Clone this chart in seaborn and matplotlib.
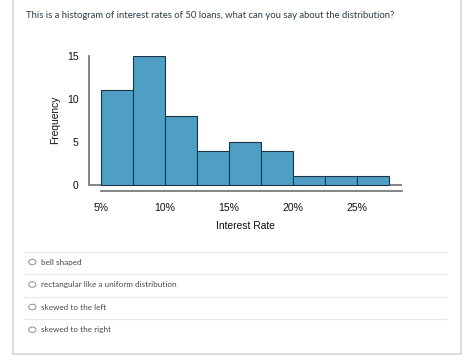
import numpy as np
import matplotlib
matplotlib.use("Agg")
import matplotlib.pyplot as plt
from matplotlib.patches import Circle
from matplotlib.lines import Line2D
import seaborn as sns

# histogram: interest rate bins (%) and loan counts
bin_edges = [5, 7.5, 10, 12.5, 15, 17.5, 20, 22.5, 25, 27.5]
counts = [11, 15, 8, 4, 5, 4, 1, 1, 1]
x_ticks = [5, 10, 15, 20, 25]
x_tick_labels = ["5%", "10%", "15%", "20%", "25%"]
y_ticks = [0, 5, 10, 15]

question = "This is a histogram of interest rates of 50 loans, what can you say about the distribution?"
options = ["bell shaped", "rectangular like a uniform distribution",
           "skewed to the left", "skewed to the right"]

sns.set_style("white")
plt.rcParams["font.family"] = ["Liberation Sans", "DejaVu Sans"]

W, H = 474, 363
fig = plt.figure(figsize=(W / 100, H / 100), dpi=100)
fig.patch.set_facecolor("white")

def fx(px):
    return px / W

def fy(py):
    return 1 - py / H

# card border
card_col = "#d6d6d6"
fig.add_artist(Line2D([fx(13), fx(13)], [fy(-5), fy(354)], color=card_col, lw=1.2))
fig.add_artist(Line2D([fx(460.5), fx(460.5)], [fy(-5), fy(354)], color=card_col, lw=1.2))
fig.add_artist(Line2D([fx(13), fx(460.5)], [fy(354), fy(354)], color=card_col, lw=1.2))

# question
fig.text(fx(26), fy(16), question, family=["Lato", "DejaVu Sans"], fontsize=6.8,
         color="#2d3b45", va="center", ha="left")

# histogram axes, placed to match pixel positions
x0, x1 = 4.09, 28.46
y0, y1 = -0.75, 15
ax = fig.add_axes([fx(89), fy(191.5), fx(401.7) - fx(89), fy(55.7) - fy(191.5)])
mids = [(a + b) / 2 for a, b in zip(bin_edges[:-1], bin_edges[1:])]
sns.histplot(x=mids, weights=counts, bins=bin_edges, ax=ax, color="#4f9ec4",
             alpha=1, edgecolor="#1d3447", linewidth=0.8)
ax.set_xlim(x0, x1)
ax.set_ylim(y0, y1)
ax.set_facecolor("none")

axis_col = "#707070"
ax.axhline(0, color=axis_col, lw=1.2, zorder=0.5)
for s in ["top", "right"]:
    ax.spines[s].set_visible(False)
ax.spines["left"].set_bounds(0, 15)
ax.spines["bottom"].set_bounds(5, x1)
for s in ["left", "bottom"]:
    ax.spines[s].set_color(axis_col)
    ax.spines[s].set_linewidth(1.2)
ax.set_xticks(x_ticks)
ax.set_xticklabels(x_tick_labels)
ax.set_yticks(y_ticks)
ax.tick_params(axis="both", direction="out", length=3, width=1.2, color=axis_col,
               labelsize=7.5, labelcolor="#111111")
ax.tick_params(axis="x", pad=5.5)
ax.tick_params(axis="y", pad=4.5)
ax.set_xlabel("")
ax.set_ylabel("")

fig.text(fx(245), fy(226), "Interest Rate", fontsize=7.4, ha="center", va="center", color="#111111")
fig.text(fx(55), fy(120), "Frequency", fontsize=7.4, ha="center", va="center",
         rotation=90, color="#111111")

# answer options
sep_y = [251.7, 274.2, 296.8, 319.4]
opt_y = [262, 284.5, 307, 329.7]
for sy in sep_y:
    fig.add_artist(Line2D([fx(24), fx(447)], [fy(sy), fy(sy)], color="#e9e9e9", lw=0.9))
for oy, txt in zip(opt_y, options):
    fig.add_artist(Circle((fx(32.3), fy(oy)), radius=3.6 / W, transform=fig.transFigure,
                          facecolor="white", edgecolor="#9a9a9a", lw=0.8))
    fig.text(fx(41), fy(oy), txt, family=["Lato", "DejaVu Sans"], fontsize=5.9,
             color="#4a4a4a", va="center", ha="left")

fig.savefig("out.png", dpi=100, facecolor="white")
